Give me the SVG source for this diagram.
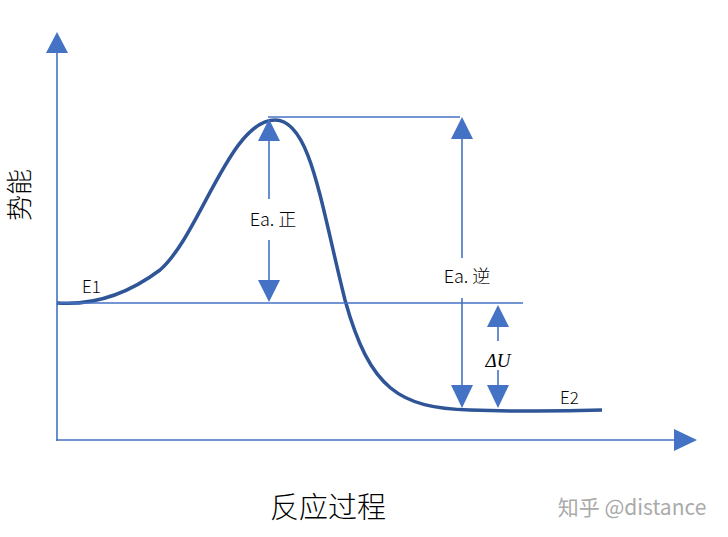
<svg xmlns="http://www.w3.org/2000/svg" width="728" height="537" viewBox="0 0 728 537">
<style>
.ln{stroke:#4472c4;stroke-width:1.6;fill:none}
.hd{fill:#4472c4}
.t{font-family:"Noto Sans CJK SC","Noto Sans",sans-serif;fill:#000;font-weight:300}
</style>
<rect width="728" height="537" fill="#fff"/>
<g id="axes">
<line class="ln" x1="57" y1="50" x2="57" y2="441" stroke-width="2"/>
<polygon class="hd" points="57,32 46,53 68,53"/>
<line class="ln" x1="56" y1="440" x2="676" y2="440" stroke-width="2"/>
<polygon class="hd" points="697,440 674,429 674,451"/>
</g>
<g id="curve">
<path d="M57,303 C85,305 120,300 160,270 C200,235 230,120 275,120 C310,120 320,200 345,300 C370,390 400,408 470,410 C530,412 570,411 602,410" fill="none" stroke="#2f5597" stroke-width="3.5"/>
</g>
<g id="connectors">
<line class="ln" x1="57" y1="303" x2="523" y2="303"/>
<line class="ln" x1="268" y1="117" x2="460" y2="117"/>
<line class="ln" x1="269" y1="138" x2="269" y2="199"/>
<line class="ln" x1="269" y1="240" x2="269" y2="282"/>
<polygon class="hd" points="269,119 258,141 280,141"/>
<polygon class="hd" points="269,302 258,280 280,280"/>
<line class="ln" x1="462" y1="136" x2="462" y2="258"/>
<line class="ln" x1="462" y1="298" x2="462" y2="386"/>
<polygon class="hd" points="462,117 451,139 473,139"/>
<polygon class="hd" points="462,408 451,385 473,385"/>
<line class="ln" x1="498" y1="325" x2="498" y2="341"/>
<line class="ln" x1="498" y1="370" x2="498" y2="387"/>
<polygon class="hd" points="498,305 487,327 509,327"/>
<polygon class="hd" points="498,408 487,385 509,385"/>
</g>
<g id="labels">
<text class="t" x="273" y="226" font-size="18" text-anchor="middle">Ea.  正</text>
<text class="t" x="467" y="283" font-size="18" text-anchor="middle">Ea.  逆</text>
<text x="498" y="367" font-size="19" text-anchor="middle" font-family="'Liberation Serif',serif" font-style="italic">ΔU</text>
<text class="t" x="82" y="293" font-size="17">E1</text>
<text class="t" x="560" y="404" font-size="17">E2</text>
<text class="t" x="0" y="0" font-size="26" text-anchor="middle" transform="translate(29,195) rotate(-90)">势能</text>
<text class="t" x="328" y="518" font-size="29" text-anchor="middle">反应过程</text>
<text x="632" y="515" font-size="21" text-anchor="middle" fill="#aaa" font-family="'Noto Sans CJK SC','Noto Sans',sans-serif">知乎 @distance</text>
</g>
</svg>
